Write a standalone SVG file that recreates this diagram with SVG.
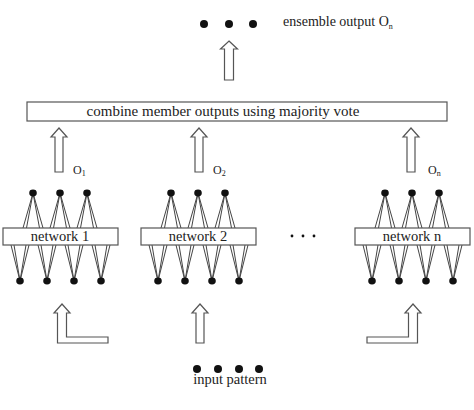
<svg xmlns="http://www.w3.org/2000/svg" width="474" height="410" viewBox="0 0 474 410" font-family="'Liberation Serif', 'DejaVu Serif', serif">
<style>
text{font-family:"Liberation Serif","DejaVu Serif",serif;fill:#222}
.t{font-size:14.5px}
.lbl{font-size:12px}
.sub{font-size:8px}
.box{fill:#fff;stroke:#555;stroke-width:1.2}
.arr{fill:#fff;stroke:#555;stroke-width:1.2;stroke-linejoin:miter}
.ln{stroke:#444;stroke-width:1}
.dot{fill:#111}
</style>
<defs>
<g id="net">
<g class="ln">
<path d="M-27,-35 l-10,35 M-27,-35 l-6.5,35 M-27,-35 l6.5,35 M-27,-35 l10,35 M0,-35 l-10,35 M0,-35 l-6.5,35 M0,-35 l6.5,35 M0,-35 l10,35 M27,-35 l-10,35 M27,-35 l-6.5,35 M27,-35 l6.5,35 M27,-35 l10,35"/>
<path d="M-40,53 l-9,-36 M-40,53 l-6,-36 M-40,53 l6,-36 M-40,53 l9,-36 M-13,53 l-9,-36 M-13,53 l-6,-36 M-13,53 l6,-36 M-13,53 l9,-36 M14,53 l-9,-36 M14,53 l-6,-36 M14,53 l6,-36 M14,53 l9,-36 M41,53 l-9,-36 M41,53 l-6,-36 M41,53 l6,-36 M41,53 l9,-36"/>
</g>
<rect class="box" x="-57" y="0" width="115" height="17"/>
<g class="dot">
<ellipse cx="-27" cy="-35" rx="3.8" ry="3.4"/><ellipse cx="0" cy="-35" rx="3.8" ry="3.4"/><ellipse cx="27" cy="-35" rx="3.8" ry="3.4"/>
<ellipse cx="-40" cy="53" rx="3.8" ry="3.4"/><ellipse cx="-13" cy="53" rx="3.8" ry="3.4"/><ellipse cx="14" cy="53" rx="3.8" ry="3.4"/><ellipse cx="41" cy="53" rx="3.8" ry="3.4"/>
</g>
</g>
</defs>

<g id="output-dots" class="dot">
<circle cx="204" cy="24" r="4"/><circle cx="229" cy="24" r="4"/><circle cx="253" cy="24" r="4"/>
</g>
<g id="ensemble-label"><text x="283" y="26" font-family="'Liberation Serif', serif" font-size="14">ensemble output O<tspan class="sub" dy="3">n</tspan></text></g>

<g id="combiner">
<rect class="box" x="27" y="102" width="420" height="19"/>
<text x="223" y="116" text-anchor="middle" font-family="'Liberation Serif', serif" font-size="15">combine member outputs using majority vote</text>
</g>

<g id="network1"><use href="#net" x="60" y="228"/><text class="t" x="60" y="241" text-anchor="middle" font-family="'Liberation Serif', serif">network 1</text></g>
<g id="network2"><use href="#net" x="198" y="228"/><text class="t" x="198" y="241" text-anchor="middle" font-family="'Liberation Serif', serif">network 2</text></g>
<g id="networkn"><use href="#net" x="412" y="228"/><text class="t" x="412" y="241" text-anchor="middle" font-family="'Liberation Serif', serif">network n</text></g>

<g id="ellipsis" class="dot"><circle cx="292" cy="236" r="1.4"/><circle cx="303" cy="236" r="1.4"/><circle cx="314" cy="236" r="1.4"/></g>

<g id="connectors">
<path class="arr" d="M229,41 L237.5,49 L233.5,49 L233.5,80 L224.5,80 L224.5,49 L220.5,49 Z"/>
<path class="arr" d="M59,128 L67,137 L63,137 L63,172 L55,172 L55,137 L51,137 Z"/>
<path class="arr" d="M199,128 L207,137 L203,137 L203,172 L195,172 L195,137 L191,137 Z"/>
<path class="arr" d="M411,128 L419,137 L415,137 L415,172 L407,172 L407,137 L403,137 Z"/>
<path class="arr" d="M62,304 L70,313 L66.5,313 L66.5,337 L108,337 L108,343 L57.5,343 L57.5,313 L54,313 Z"/>
<path class="arr" d="M200,304 L208,313 L204,313 L204,343 L196,343 L196,313 L192,313 Z"/>
<path class="arr" d="M413,304 L421,313 L417.5,313 L417.5,343 L367,343 L367,337 L408.5,337 L408.5,313 L405,313 Z"/>
</g>

<g id="output-labels">
<text class="lbl" x="73" y="174">O<tspan class="sub" dy="2">1</tspan></text>
<text class="lbl" x="213" y="174">O<tspan class="sub" dy="2">2</tspan></text>
<text class="lbl" x="428" y="174">O<tspan class="sub" dy="2">n</tspan></text>
</g>

<g id="input-dots" class="dot">
<circle cx="197" cy="369" r="4"/><circle cx="218" cy="369" r="4"/><circle cx="239" cy="369" r="4"/><circle cx="259" cy="369" r="4"/>
</g>
<g id="input-label"><text class="t" x="230" y="384" text-anchor="middle" font-family="'Liberation Serif', serif">input pattern</text></g>
</svg>
